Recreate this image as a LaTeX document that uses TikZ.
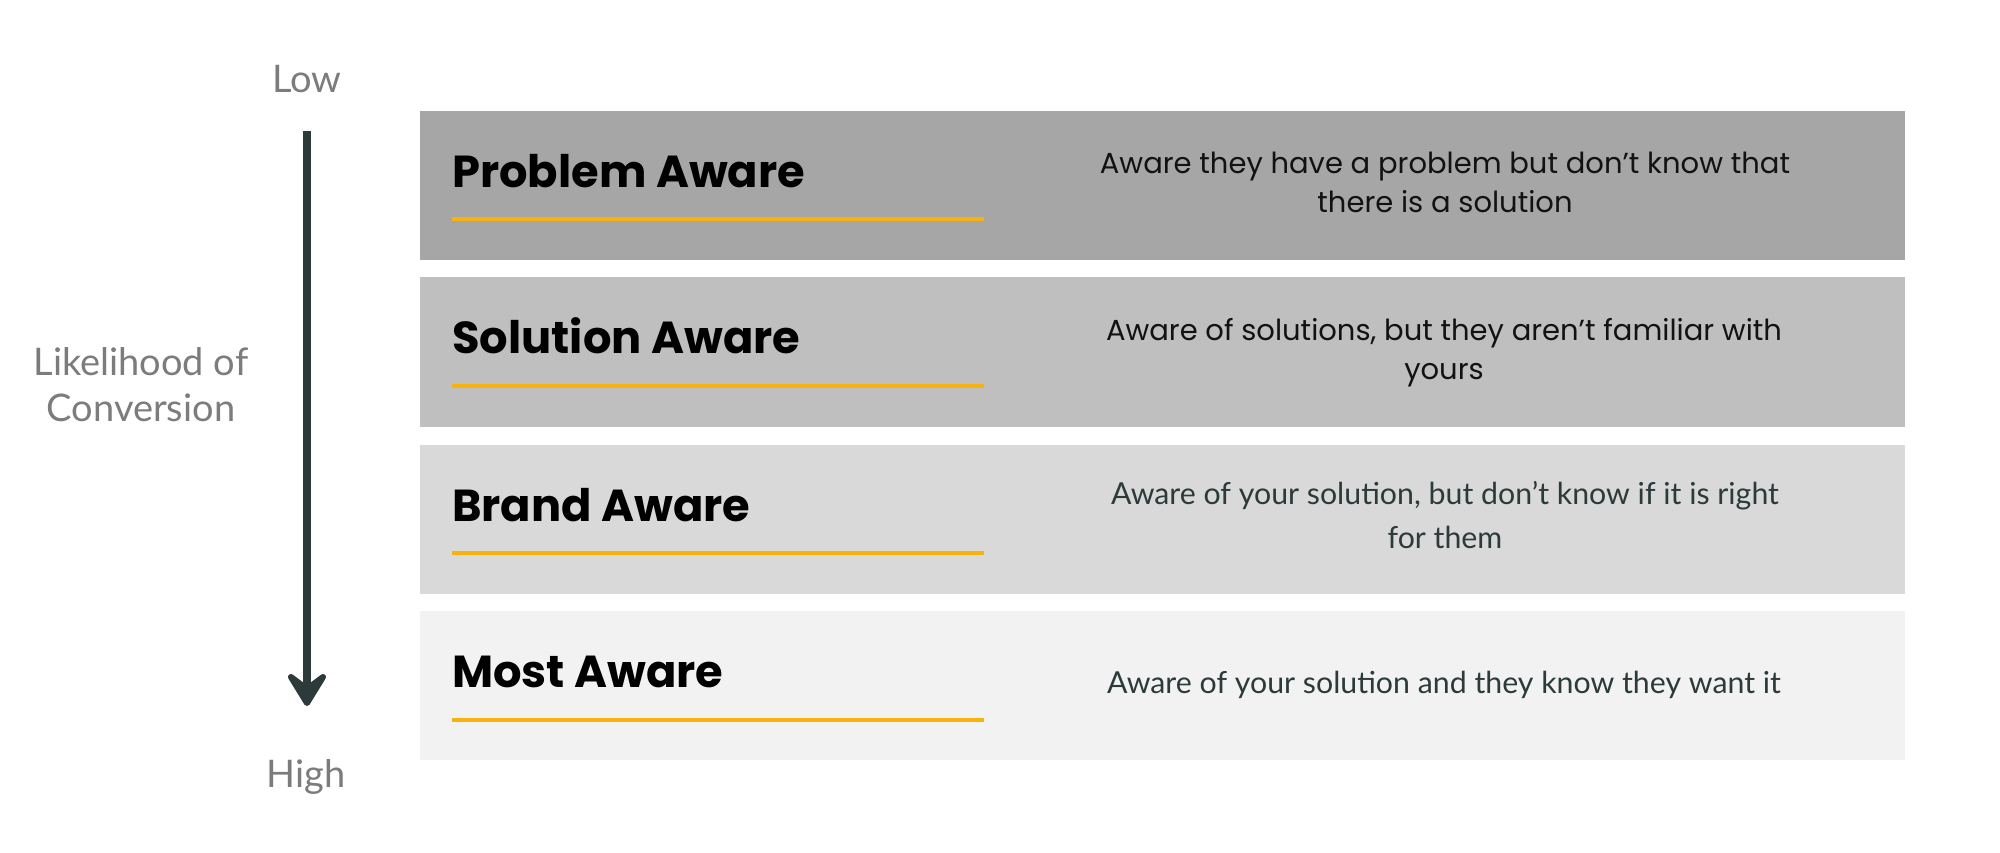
\documentclass[tikz,border=0pt]{standalone}
\usepackage{fontspec}
\setmainfont{Lato}
\newfontfamily\popfont{Poppins}
\usetikzlibrary{arrows.meta}
\definecolor{boxA}{HTML}{A6A6A6}
\definecolor{boxB}{HTML}{BFBFBF}
\definecolor{boxC}{HTML}{D9D9D9}
\definecolor{boxD}{HTML}{F2F2F2}
\definecolor{accent}{HTML}{F7B30C}
\definecolor{slate}{HTML}{2D3A3A}
\definecolor{lblgray}{HTML}{7C7C7C}
\tikzset{
  title/.style={anchor=base west, inner sep=0pt, font=\popfont\bfseries\fontsize{44.8}{50}\selectfont, text=black},
  descm/.style={anchor=base, inner sep=0pt, align=center, font=\popfont\fontsize{29}{39}\selectfont, text=black!93},
  descl/.style={anchor=base, inner sep=0pt, align=center, font=\fontsize{30.3}{44}\selectfont, text=slate},
  lbl/.style={anchor=base, inner sep=0pt, align=center, font=\fontsize{38}{46}\selectfont, text=lblgray},
  uline/.style={draw=accent, line width=4pt},
  ahead/.style={fill=slate, draw=slate, line width=6pt, line join=round},
}
\begin{document}
\begin{tikzpicture}[x=1pt,y=-1pt]
\useasboundingbox (0,0) rectangle (2000,852);
\fill[white] (0,0) rectangle (2000,852);
% bands
\fill[boxA] (420,111) rectangle (1905,260);
\fill[boxB] (420,277) rectangle (1905,427);
\fill[boxC] (420,445) rectangle (1905,594);
\fill[boxD] (420,611) rectangle (1905,760);
% titles
\node[title] (t1) at (452,187) {Problem Aware};
\node[title] (t2) at (452,353) {Solution Aware};
\node[title] (t3) at (452,521) {Brand Aware};
\node[title] (t4) at (452,687) {Most Aware};
% underlines
\coordinate (u1a) at (452,219); \coordinate (u1b) at (984,219);
\coordinate (u2a) at (452,386); \coordinate (u2b) at (984,386);
\coordinate (u3a) at (452,553); \coordinate (u3b) at (984,553);
\coordinate (u4a) at (452,720); \coordinate (u4b) at (984,720);
\draw[uline] (u1a) -- (u1b);
\draw[uline] (u2a) -- (u2b);
\draw[uline] (u3a) -- (u3b);
\draw[uline] (u4a) -- (u4b);
% descriptions (base = baseline of last line)
\node[descm] (d1) at (1445,212) {Aware they have a problem but don’t know that\\there is a solution};
\node[descm] (d2) at (1444,379) {Aware of solutions, but they aren’t familiar with\\yours};
\node[descl] (d3) at (1445,548) {Aware of your solution, but don’t know if it is right\\for them};
\node[descl] (d4) at (1444,693) {Aware of your solution and they know they want it};
% axis
\node[lbl] (low) at (307,92) {Low};
\node[lbl] (high) at (306,787) {High};
\node[lbl] (lik) at (141,421) {Likelihood of\\Conversion};
\coordinate (atop) at (307,131);
\coordinate (abot) at (307,690);
\draw[slate, line width=8pt] (atop) -- (abot);
\filldraw[ahead] (307,703) -- (291,677) -- (307,689) -- (323,677) -- cycle;
\end{tikzpicture}
\end{document}
